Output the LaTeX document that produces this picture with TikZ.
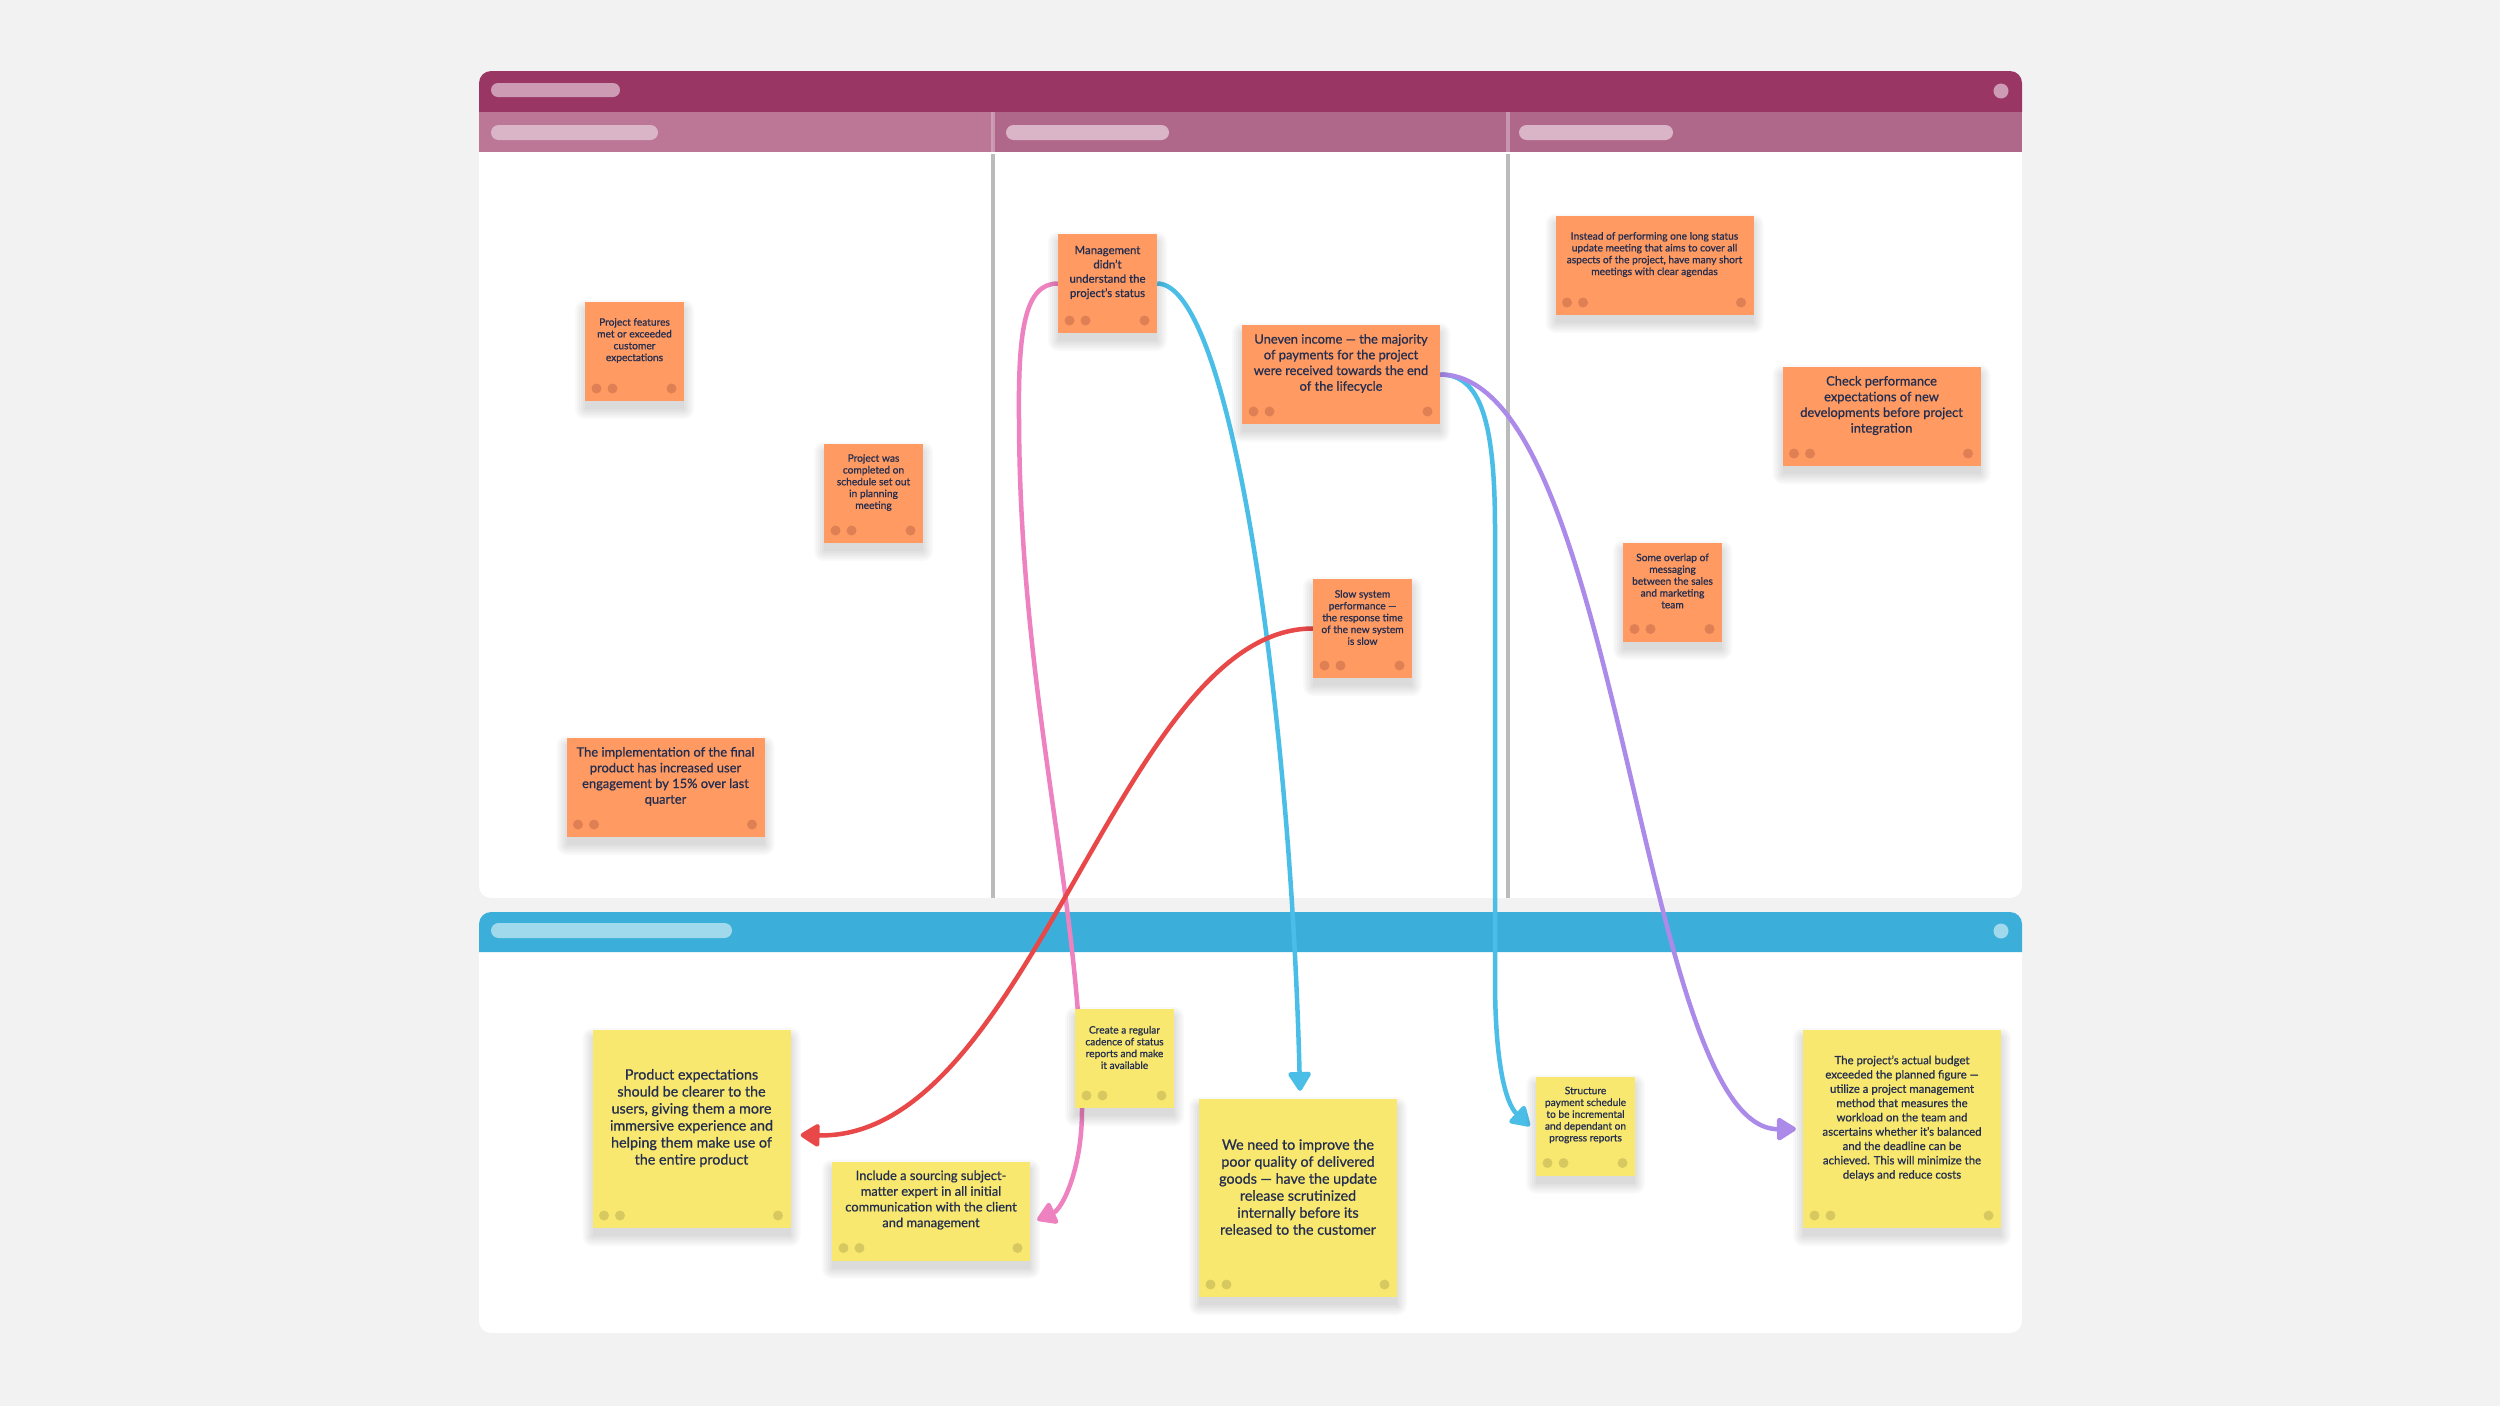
\documentclass[tikz,border=0pt]{standalone}
\usepackage{fontspec}
\setmainfont{Lato}[FakeBold=0.8]
\usetikzlibrary{arrows.meta}
\definecolor{bgc}{RGB}{242,242,242}
\definecolor{hdrc}{RGB}{154,54,99}
\definecolor{subA}{RGB}{188,118,150}
\definecolor{subB}{RGB}{176,104,138}
\definecolor{hpill}{RGB}{206,155,181}
\definecolor{spill}{RGB}{218,180,199}
\definecolor{bluehdr}{RGB}{59,175,218}
\definecolor{bpill}{RGB}{160,216,236}
\definecolor{divc}{RGB}{187,187,187}
\definecolor{onote}{RGB}{255,154,98}
\definecolor{ynote}{RGB}{249,232,111}
\definecolor{odot}{RGB}{222,128,84}
\definecolor{ydot}{RGB}{215,201,96}
\definecolor{navy}{RGB}{36,46,80}
\definecolor{cpink}{RGB}{238,130,192}
\definecolor{cblue}{RGB}{75,190,232}
\definecolor{cred}{RGB}{232,72,72}
\definecolor{cpurple}{RGB}{172,138,234}
\newcommand{\fS}{\fontsize{10.2pt}{11.8pt}\selectfont}
\newcommand{\fM}{\fontsize{11.4pt}{14.3pt}\selectfont}
\newcommand{\fL}{\fontsize{12.9pt}{15.7pt}\selectfont}
\newcommand{\fXL}{\fontsize{14.3pt}{17pt}\selectfont}
\tikzset{
  stickybox/.style={rectangle, inner sep=0pt, outer sep=0pt, fill=#1},
  notetext/.style={align=center, inner sep=0pt, text=navy},
  conn/.style={line width=4.5pt, -{Triangle[length=21pt,width=25pt,round]}},
}
% #1 name, #2 cx, #3 cy, #4 w, #5 h, #6 o/y, #7 font, #8 text
\newcommand{\stickynote}[8]{%
  \foreach \r in {0,2,4,6,8,10}{%
    \fill[black, opacity=0.025, rounded corners=\r pt]
      ({#2-#4/2-\r},{#3-#5/2+8-\r}) rectangle ({#2+#4/2+\r},{#3+#5/2+8+\r});}
  \node[stickybox=#6note, minimum width=#4pt, minimum height=#5pt] (#1) at (#2,#3) {};
  \fill[#6dot] ([xshift=11.5pt,yshift=12.5pt]#1.south west) circle (5pt)
               ([xshift=27.5pt,yshift=12.5pt]#1.south west) circle (5pt)
               ([xshift=-12.5pt,yshift=12.5pt]#1.south east) circle (5pt);
  \node[notetext, font=#7] at ([yshift=11pt]#1.center) {#8};
}
\begin{document}
\begin{tikzpicture}[x=1pt,y=-1pt]
\fill[bgc] (0,0) rectangle (2500,1406);
\useasboundingbox (0,0) rectangle (2500,1406);

% ---------- top panel ----------
\fill[white, rounded corners=12pt] (479,71) rectangle (2022,898);
\fill[hdrc] (479,112) {[rounded corners=12pt] -- (479,71) -- (2022,71)} -- (2022,112) -- cycle;
\fill[subA] (479,112) rectangle (993,152);
\fill[subB] (993,112) rectangle (2022,152);
\fill[hpill, rounded corners=7pt] (491,83) rectangle (620,97);
\fill[hpill] (2001,91) circle (7.5pt);
\fill[spill, rounded corners=7.5pt] (491,125) rectangle (658,140);
\fill[spill, rounded corners=7.5pt] (1006,125) rectangle (1169,140);
\fill[spill, rounded corners=7.5pt] (1519,125) rectangle (1673,140);
\draw[white, opacity=0.3, line width=4.5pt] (993,112) -- (993,152) (1508,112) -- (1508,152);
\draw[divc, line width=4.5pt] (993,154) -- (993,898) (1508,154) -- (1508,898);

% ---------- bottom panel ----------
\fill[white, rounded corners=12pt] (479,912) rectangle (2022,1333);
\fill[bluehdr] (479,952) {[rounded corners=12pt] -- (479,912) -- (2022,912)} -- (2022,952) -- cycle;
\fill[bpill, rounded corners=7.5pt] (491,923) rectangle (732,938);
\fill[bpill] (2001,931) circle (7.5pt);

% ---------- anchor nodes for connectors (notes are drawn later, on top) ----------
\path (1107.5,283.5) node[minimum width=99pt, minimum height=99pt, inner sep=0pt] (mgmtA) {};
\path (1341,374.5) node[minimum width=198pt, minimum height=99pt, inner sep=0pt] (unevA) {};
\path (1362.5,628.5) node[minimum width=99pt, minimum height=99pt, inner sep=0pt] (slowA) {};
\path (691.5,1129) node[minimum width=198pt, minimum height=198pt, inner sep=0pt] (prodA) {};
\path (931,1211) node[minimum width=198pt, minimum height=99pt, inner sep=0pt] (inclA) {};
\path (1298,1198) node[minimum width=198pt, minimum height=198pt, inner sep=0pt] (needA) {};
\path (1585.5,1126) node[minimum width=99pt, minimum height=99pt, inner sep=0pt] (strcA) {};
\path (1902,1129) node[minimum width=198pt, minimum height=198pt, inner sep=0pt] (budgA) {};
\coordinate (redtip) at ([xshift=10pt,yshift=-6pt]prodA.east);
\coordinate (pinktip) at ([xshift=7pt,yshift=-9pt]inclA.east);
\coordinate (blueonetip) at ([xshift=2pt,yshift=8pt]needA.north);
\coordinate (bluetwotip) at ([xshift=-6pt]strcA.west);
\coordinate (purpletip) at ([xshift=-7pt]budgA.west);

% ---------- connectors ----------
\draw[conn, cpink] (mgmtA.west) .. controls +(-33,0) and (1018,330) .. (1019,420)
   .. controls (1020,700) and (1082,900) .. (1082,1110)
   .. controls (1082,1170) and (1062,1209) .. (pinktip);
\draw[conn, cblue] (mgmtA.east) .. controls +(73,0) and +(-10,-391) .. (blueonetip);
\draw[conn, cblue] (unevA.east) .. controls +(40,0) and (1495,420) .. (1495,530)
   -- (1495,980) .. controls (1495,1060) and (1505,1103) .. (bluetwotip);
\draw[conn, cpurple] (unevA.east) .. controls +(180,0) and +(-156,1) .. (purpletip);
\draw[conn, cred] (slowA.west) .. controls +(-193,0) and +(230,5) .. (redtip);

% ---------- orange notes ----------
\stickynote{pf}{634.5}{351.5}{99}{99}{o}{\fS}{Project features\\met or exceeded\\customer\\expectations}
\stickynote{pwc}{873.5}{493.5}{99}{99}{o}{\fS}{Project was\\completed on\\schedule set out\\in planning\\meeting}
\stickynote{mgmt}{1107.5}{283.5}{99}{99}{o}{\fM}{Management\\didn’t\\understand the\\project’s status}
\stickynote{unev}{1341}{374.5}{198}{99}{o}{\fL}{Uneven income — the majority\\of payments for the project\\were received towards the end\\of the lifecycle}
\stickynote{inst}{1654.5}{265.5}{198}{99}{o}{\fS}{Instead of performing one long status\\update meeting that aims to cover all\\aspects of the project, have many short\\meetings with clear agendas}
\stickynote{chk}{1881.5}{416.5}{198}{99}{o}{\fL}{Check performance\\expectations of new\\developments before project\\integration}
\stickynote{slow}{1362.5}{628.5}{99}{99}{o}{\fS}{Slow system\\performance —\\the response time\\of the new system\\is slow}
\stickynote{ovl}{1672.5}{592}{99}{99}{o}{\fS}{Some overlap of\\messaging\\between the sales\\and marketing\\team}
\stickynote{impl}{665.5}{787.5}{198}{99}{o}{\fL}{The implementation of the final\\product has increased user\\engagement by 15\% over last\\quarter}

% ---------- yellow notes ----------
\stickynote{prod}{691.5}{1129}{198}{198}{y}{\fXL}{Product expectations\\should be clearer to the\\users, giving them a more\\immersive experience and\\helping them make use of\\the entire product}
\stickynote{crt}{1124.5}{1058.5}{99}{99}{y}{\fS}{Create a regular\\cadence of status\\reports and make\\it available}
\stickynote{incl}{931}{1211}{198}{99}{y}{\fL}{Include a sourcing subject-\\matter expert in all initial\\communication with the client\\and management}
\stickynote{need}{1298}{1198}{198}{198}{y}{\fXL}{We need to improve the\\poor quality of delivered\\goods — have the update\\release scrutinized\\internally before its\\released to the customer}
\stickynote{strc}{1585.5}{1126}{99}{99}{y}{\fS}{Structure\\payment schedule\\to be incremental\\and dependant on\\progress reports}
\stickynote{budg}{1902}{1129}{198}{198}{y}{\fM}{The project’s actual budget\\exceeded the planned figure —\\utilize a project management\\method that measures the\\workload on the team and\\ascertains whether it’s balanced\\and the deadline can be\\achieved. This will minimize the\\delays and reduce costs}
\end{tikzpicture}
\end{document}
